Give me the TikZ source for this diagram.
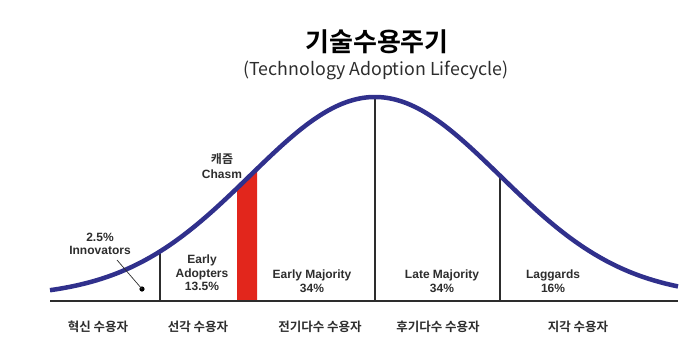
\documentclass[tikz,border=0pt]{standalone}
\usepackage{fontspec}
\setmainfont{Liberation Sans}
\newfontfamily\kr{Noto Sans CJK KR}
\newfontfamily\krb{Noto Sans CJK KR Bold}
\definecolor{curveblue}{RGB}{48,48,140}
\definecolor{chasmred}{RGB}{226,38,28}
\definecolor{txt}{RGB}{45,45,45}
\tikzset{
  lbl/.style={font=\bfseries\fontsize{12}{13.5}\selectfont, text=txt, align=center, inner sep=0pt},
  krlbl/.style={font=\krb\fontsize{12.5}{15}\selectfont, text=txt, inner sep=0pt},
  divider/.style={draw=txt, line width=1.2pt},
}
\begin{document}
\begin{tikzpicture}[x=1pt,y=-1pt]
\useasboundingbox (0,0) rectangle (700,361);
% chasm fill
\fill[chasmred] plot[domain=237:257, samples=20] (\x, {297-200*exp(-((\x-375)/125)^2/2)}) -- (257,301) -- (237,301) -- cycle;
% dividers
\draw[divider] (160,301) -- (160,{297-200*exp(-((160-375)/125)^2/2)});
\draw[divider] (375,301) -- (375,97);
\draw[divider] (500,301) -- (500,{297-200*exp(-((500-375)/125)^2/2)});
% baseline
\draw[draw=txt, line width=1.6pt] (50,301) -- (678,301);
% curve
\draw[curveblue, line width=4.5pt] plot[domain=50:678, samples=150, smooth] (\x, {297-200*exp(-((\x-375)/125)^2/2)});
% title
\node[font=\krb\fontsize{26}{30}\selectfont, text=black, inner sep=0pt] (title) at (377,42) {기술수용주기};
\node[font=\kr\fontsize{17.8}{20}\selectfont, text=txt, inner sep=0pt] (subtitle) at (376,70) {(Technology Adoption Lifecycle)};
% chasm label
\node[font=\krb\fontsize{12}{13}\selectfont, text=txt, inner sep=0pt] (chk) at (222,159) {캐즘};
\node[lbl] (chasm) at (222,174) {Chasm};
% innovators
\node[lbl] (innov) at (100,244) {2.5\%\\Innovators};
\fill[black] (142,289) circle (2.6);
\coordinate (dot) at (142,289);
\draw[txt, line width=0.7pt] (117,260) -- (dot);
% segment labels
\node[lbl] (ea) at (202,273) {Early\\Adopters\\13.5\%};
\node[lbl] (em) at (312,281) {Early Majority\\34\%};
\node[lbl] (lm) at (442,281) {Late Majority\\34\%};
\node[lbl] (lg) at (553,281) {Laggards\\16\%};
% korean labels
\node[krlbl] (k1) at (98,327) {혁신 수용자};
\node[krlbl] (k2) at (198,327) {선각 수용자};
\node[krlbl] (k3) at (320,327) {전기다수 수용자};
\node[krlbl] (k4) at (438,327) {후기다수 수용자};
\node[krlbl] (k5) at (578,327) {지각 수용자};
\end{tikzpicture}
\end{document}
